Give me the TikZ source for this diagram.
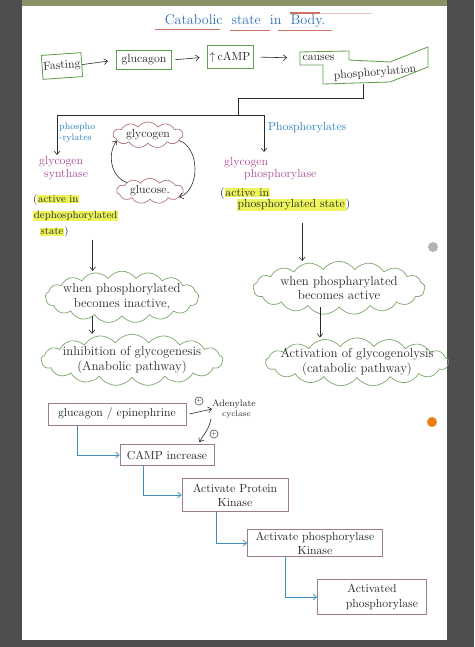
\documentclass[tikz,border=0pt]{standalone}
\usetikzlibrary{arrows.meta,shapes.symbols,calc}
\definecolor{bggray}{HTML}{4E4E4E}
\definecolor{boxgreen}{HTML}{5E9E4E}
\definecolor{cloudgreen}{HTML}{7AA86A}
\definecolor{cloudred}{HTML}{B07A78}
\definecolor{purpletext}{HTML}{B0509A}
\definecolor{bluetext}{HTML}{2E86C1}
\definecolor{titleblue}{HTML}{2A6FB5}
\definecolor{boxpurple}{HTML}{9C7A92}
\definecolor{connblue}{HTML}{3C8DC0}
\definecolor{hlyellow}{HTML}{EEF55A}
\definecolor{ink}{HTML}{2A2A2A}
\definecolor{ulred}{HTML}{D07060}
\definecolor{foliage}{HTML}{8C9268}
\begin{document}
\begin{tikzpicture}[x=0.03cm,y=-0.03cm,
  gbox/.style={draw=boxgreen,line width=0.7pt,inner sep=1pt,text=ink,font=\normalsize},
  pbox/.style={draw=boxpurple,line width=0.6pt,inner sep=1pt,text=ink,align=center,font=\normalsize},
  gcloud/.style={cloud,cloud puffs=17,cloud puff arc=110,cloud ignores aspect,draw=cloudgreen,line width=0.6pt,inner sep=0pt},
  rcloud/.style={cloud,cloud puffs=11,cloud puff arc=110,cloud ignores aspect,draw=cloudred,line width=0.6pt,inner sep=0pt},
  ctext/.style={align=center,text=ink,font=\fontsize{11}{12.5}\selectfont,inner sep=0pt},
  arr/.style={draw=ink,line width=0.5pt,-{Straight Barb[length=3pt,width=5pt]}},
  barr/.style={draw=connblue,line width=0.6pt,-{Straight Barb[length=3pt,width=5pt]}},
  plainline/.style={draw=ink,line width=0.5pt},
  ptext/.style={text=purpletext,align=left,inner sep=0pt},
  btext/.style={text=bluetext,align=left,inner sep=0pt},
  hltext/.style={text=ink,align=left,inner sep=0pt}
]
\useasboundingbox (0,0) rectangle (474,647);
% page
\fill[bggray] (0,0) rectangle (474,647);
\fill[white] (22,6) rectangle (447,640);
\fill[foliage] (22,0) rectangle (447,6);
\draw[ulred,line width=1.2pt] (290,13) -- (320,13);
\draw[ulred!40,line width=1pt] (320,13.5) -- (372,13.5);
\fill[gray!60] (433,247) circle (5);
\fill[orange!70!brown] (432,422) circle (5);

% title
\node[text=titleblue,font=\large,inner sep=0pt] (title) at (245,21) {Catabolic \ state \ in \ Body.};
\draw[ulred,line width=0.6pt] (155,29) -- (220,29) (230,30) -- (270,30) (278,30) -- (332,30);

% top row
\node[gbox,minimum width=1.17cm,minimum height=0.72cm,rotate=4] (fast) at (62,66) {Fasting};
\node[gbox,minimum width=1.65cm,minimum height=0.57cm] (gluc) at (144,60) {glucagon};
\node[gbox,minimum width=1.38cm,minimum height=0.69cm] (camp) at (230,57) {$\uparrow$\,cAMP};
\draw[boxgreen,line width=0.7pt] (300,52) -- (349,51) -- (349,60) -- (390,62) -- (428,47) -- (428,67) -- (390,82) -- (323,84) -- (323,65) -- (300,65) -- cycle;
\node[anchor=west,text=ink,inner sep=2pt] (cs) at (300,58) {causes};
\node[text=ink,inner sep=0pt,rotate=5] (ph) at (375,73) {phosphorylation};
\coordinate (cp) at (363,84);
\draw[arr,shorten >=7pt] (fast.east) -- (gluc.west);
\draw[arr,shorten <=3pt,shorten >=6pt] (gluc.east) -- (camp.west);
\draw[arr,shorten <=6pt,shorten >=11pt] (camp.east) -- (cs.west);

% middle left/right
\node[btext,font=\footnotesize,anchor=north west] (phl) at (59,123) {phospho\\-rylates};
\node[btext,font=\normalsize,anchor=west] (phr) at (268,128) {Phosphorylates};
\node[ptext,font=\normalsize,anchor=north west] (gs) at (39,156) {glycogen\\[-1pt]\hspace{1.5mm}synthase};
\node[ptext,font=\normalsize,anchor=north west] (gp) at (224,157) {glycogen\\[-2pt]\hspace{6mm}phosphorylase};
\setlength{\fboxsep}{0.6pt}
\node[hltext,font=\small,anchor=north west] (lhl) at (33,194) {(\colorbox{hlyellow}{active in}\\[3pt]\colorbox{hlyellow}{dephosphorylated}\\[3pt]\hspace{2mm}\colorbox{hlyellow}{state})};
\node[hltext,font=\normalsize,anchor=north west] (rhl) at (220,187) {(\colorbox{hlyellow}{active in}\\[-2pt]\hspace{5mm}\colorbox{hlyellow}{phosphorylated state})};

% bracket connectors
\coordinate (br) at (238,115);
\draw[plainline] (cp) -- ++(0,14) -| (br);
\draw[arr] (br) -| ($(gs.north west)+(18,-1)$);
\draw[arr] (br) -| ($(gp.north west)+(40,-5)$);

% glycogen / glucose cycle
\node[rcloud,minimum width=2.1cm,minimum height=0.78cm] (gly) at (148,135) {};
\node[ctext,font=\normalsize] (glyt) at (gly) {glycogen};
\node[rcloud,minimum width=2.0cm,minimum height=0.76cm] (glu) at (150,191) {};
\node[ctext,font=\normalsize] (glut) at (glu) {glucose.};
\draw[arr] (glu.160) to[out=160,in=235] (gly.190);
\draw[arr] (gly.-10) to[out=-20,in=20] (glu.-12);

% state clouds
\node[gcloud,minimum width=4.6cm,minimum height=1.55cm] (lc1) at (122,297) {};
\node[ctext] (lc1t) at (lc1) {when phosphorylated\\becomes inactive,};
\node[gcloud,minimum width=5.15cm,minimum height=1.6cm] (rc1) at (339,288) {};
\node[ctext] (rc1t) at (rc1) {when phospharylated\\becomes active};
\node[gcloud,minimum width=5.45cm,minimum height=1.55cm] (lc2) at (132,360) {};
\node[ctext] (lc2t) at (lc2) {inhibition of glycogenesis\\(Anabolic pathway)};
\node[gcloud,minimum width=5.5cm,minimum height=1.45cm] (rc2) at (357,362) {};
\node[ctext] (rc2t) at (rc2) {Activation of glycogenolysis\\(catabolic pathway)};

\draw[arr] ($(lhl.south)+(17,2)$) coordinate (a1) -- (a1 |- lc1.north);
\draw[arr] ($(rhl.south)+(17,12)$) coordinate (a2) -- (a2 |- rc1.north);
\draw[arr] ($(lc1.south)+(-30,0)$) coordinate (a3) -- (a3 |- lc2.north);
\draw[arr] ($(rc1.south)+(-19,0)$) coordinate (a4) -- (a4 |- rc2.north);

% bottom cascade
\node[pbox,minimum width=4.14cm,minimum height=0.66cm] (ge) at (117,414) {glucagon / epinephrine};
\node[text=ink,align=left,inner sep=0pt,anchor=west] (ac) at (212,409) {\footnotesize Adenylate\\[-3pt]\hspace{3mm}\scriptsize cyclase};
\node[draw=ink,circle,inner sep=0pt,minimum size=7pt,font=\tiny,text=ink] (p1) at (199,401) {+};
\node[draw=ink,circle,inner sep=0pt,minimum size=7pt,font=\tiny,text=ink] (p2) at (214,434) {+};
\draw[arr] (ge.east) ++(3,0) -- (ac.west);
\node[pbox,minimum width=2.82cm,minimum height=0.63cm] (camp2) at (167,455) {CAMP increase};
\draw[arr] ($(ac.south west)+(-1,0)$) to[out=-100,in=60] ($(camp2.north east)+(-15,-2)$);
\node[pbox,minimum width=3.18cm,minimum height=0.99cm] (apk) at (235,495) {Activate Protein\\Kinase};
\node[pbox,minimum width=4.05cm,minimum height=0.81cm] (aphk) at (315,543) {Activate phosphorylase\\Kinase};
\node[pbox,minimum width=3.27cm,minimum height=1.05cm] (ap) at (372,597) {Activated\\\hspace{6mm}phosphorylase};
\draw[barr] ($(ge.south west)+(30,0)$) |- (camp2.west);
\draw[barr] ($(camp2.south west)+(24,0)$) |- (apk.west);
\draw[barr] ($(apk.south west)+(35,0)$) |- (aphk.west);
\draw[barr] ($(aphk.south west)+(38,0)$) |- (ap.west);
\end{tikzpicture}
\end{document}
